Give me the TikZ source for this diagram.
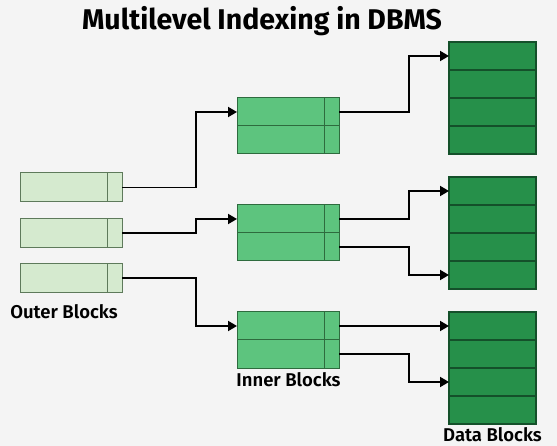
\documentclass[tikz,border=0pt]{standalone}
\usepackage{fontspec}
\setmainfont{Fira Sans}[BoldFont={Fira Sans SemiBold}]
\newfontfamily\headfont{Fira Sans}[BoldFont={Fira Sans Bold}]
\usetikzlibrary{arrows.meta, positioning}
\definecolor{pagebg}{HTML}{F4F4F4}
\definecolor{outerfill}{HTML}{D5EACF}
\definecolor{outerline}{HTML}{5E7A5B}
\definecolor{innerfill}{HTML}{5DC47E}
\definecolor{innerline}{HTML}{2E6B3E}
\definecolor{datafill}{HTML}{26904A}
\definecolor{dataline}{HTML}{14502A}

\begin{document}
\begin{tikzpicture}[x=1pt, y=-1pt,
  outerblk/.style={draw=outerline, fill=outerfill, line width=1pt, minimum width=102pt,
                   minimum height=29pt, inner sep=0pt, outer sep=0pt},
  innerrow/.style={draw=innerline, fill=innerfill, line width=1pt, minimum width=102pt,
                   minimum height=28pt, inner sep=0pt, outer sep=0pt},
  datarow/.style={draw=dataline, fill=datafill, line width=1.2pt, minimum width=87pt,
                  minimum height=28pt, inner sep=0pt, outer sep=0pt},
  link/.style={line width=1.8pt, -{Triangle[length=9pt,width=10pt]}},
  caption/.style={font=\bfseries\fontsize{18.5}{22}\selectfont}
]
  % page
  \fill[pagebg] (0,0) rectangle (557,446);
  \useasboundingbox (0,0) rectangle (557,446);

  \node[font=\headfont\bfseries\fontsize{28.5}{34}\selectfont] (title) at (262,21) {Multilevel Indexing in DBMS};

  % outer level
  \node[outerblk] (o1) at (71,187.5) {};
  \node[outerblk] (o2) at (71,233) {};
  \node[outerblk] (o3) at (71,278) {};
  \foreach \n in {1,2,3}
    \draw[outerline, line width=1pt] ([xshift=-15pt]o\n.north east) -- ([xshift=-15pt]o\n.south east);

  % inner level
  \foreach \n/\y in {1/112, 2/219, 3/326} {
    \node[innerrow] (i\n a) at (288,\y) {};
    \node[innerrow, below=0pt of i\n a] (i\n b) {};
    \draw[innerline, line width=1pt] ([xshift=-15pt]i\n a.north east) -- ([xshift=-15pt]i\n b.south east);
  }

  % data level
  \foreach \n/\y in {1/56, 2/191, 3/326} {
    \node[datarow] (d\n a) at (492.5,\y) {};
    \node[datarow, below=0pt of d\n a] (d\n b) {};
    \node[datarow, below=0pt of d\n b] (d\n c) {};
    \node[datarow, below=0pt of d\n c] (d\n d) {};
  }

  % pointers
  \draw[link] (o1.east) -- ++(74,0) |- (i1a.west);
  \draw[link] (o2.east) -- ++(74,0) |- (i2a.west);
  \draw[link] (o3.east) -- ++(74,0) |- (i3a.west);
  \draw[link] (i1a.east) -- ++(70,0) |- (d1a.west);
  \draw[link] (i2a.east) -- ++(70,0) |- (d2a.west);
  \draw[link] (i2b.east) -- ++(70,0) |- (d2d.west);
  \draw[link] (i3a.east) -- ++(70,0) |- (d3a.west);
  \draw[link] (i3b.east) -- ++(70,0) |- (d3c.west);

  % captions
  \node[caption] (outerlbl) at (64,312) {Outer Blocks};
  \node[caption] (innerlbl) at (288.5,380) {Inner Blocks};
  \node[caption] (datalbl) at (492.5,435) {Data Blocks};
\end{tikzpicture}
\end{document}
